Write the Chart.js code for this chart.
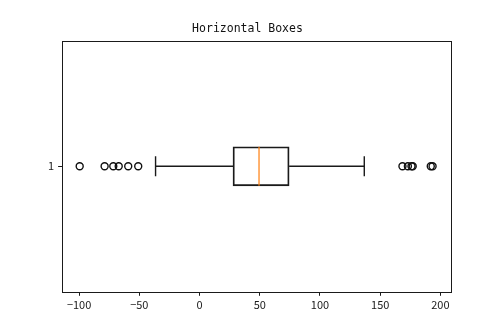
<!DOCTYPE html>
<html>
<head>
<meta charset="utf-8">
<script src="https://cdn.jsdelivr.net/npm/chart.js@4"></script>
<style>
  html, body { margin: 0; padding: 0; background: #fff; }
  #wrap { width: 500px; height: 333px; }
</style>
</head>
<body>
<div id="wrap"><canvas id="boxChart"></canvas></div>
<script>
// data
const categories = [1];
const whiskerLow = [-36.5];
const q1 = [27.8];
const median = [49.4];
const q3 = [74.4];
const whiskerHigh = [136.8];
const outlierValues = [-99.5, -78.8, -71.6, -67.1, -59.2, -50.9, 168.5, 173, 176, 177, 192, 193.5];
const xTicks = [-100, -50, 0, 50, 100, 150, 200];
const yTicks = [1];

const tickFont = { family: '"Noto Sans CJK JP", "DejaVu Sans", sans-serif', size: 11 };
const ink = '#1a1a1a';

// full frame like matplotlib spines
const framePlugin = {
    id: 'frame',
    afterDraw(chart) {
        const { ctx, chartArea: a } = chart;
        ctx.save();
        ctx.strokeStyle = ink;
        ctx.lineWidth = 1;
        ctx.strokeRect(Math.round(a.left) + 0.5, Math.round(a.top) + 0.5,
            Math.round(a.right - a.left), Math.round(a.bottom - a.top));
        ctx.restore();
    }
};

const datasets = [
    {
        type: 'bar',
        indexAxis: 'y',
        data: categories.map((c, i) => ({ x: [q1[i], q3[i]], y: c })),
        backgroundColor: 'rgba(255,255,255,0)',
        borderColor: ink,
        borderWidth: 1.2,
        borderSkipped: false,
        barThickness: 39,
        order: 3
    },
    {
        type: 'line',
        data: categories.map((c, i) => ({ x: whiskerLow[i], y: c })).concat(categories.map((c, i) => ({ x: q1[i], y: c }))),
        borderColor: ink,
        borderWidth: 1.4,
        pointRadius: 0,
        order: 2
    },
    {
        type: 'line',
        data: categories.map((c, i) => ({ x: q3[i], y: c })).concat(categories.map((c, i) => ({ x: whiskerHigh[i], y: c }))),
        borderColor: ink,
        borderWidth: 1.4,
        pointRadius: 0,
        order: 2
    },
    {
        // caps
        type: 'scatter',
        data: categories.flatMap((c, i) => [{ x: whiskerLow[i], y: c }, { x: whiskerHigh[i], y: c }]),
        pointStyle: 'line',
        rotation: 90,
        pointRadius: 10,
        borderColor: ink,
        borderWidth: 1.4,
        order: 1
    },
    {
        // median
        type: 'scatter',
        data: categories.map((c, i) => ({ x: median[i], y: c })),
        pointStyle: 'line',
        rotation: 90,
        pointRadius: 19.5,
        borderColor: '#ff7f0e',
        borderWidth: 1.2,
        order: 0
    },
    {
        // fliers
        type: 'scatter',
        data: outlierValues.map(v => ({ x: v, y: categories[0] })),
        pointStyle: 'circle',
        pointRadius: 3.5,
        backgroundColor: 'rgba(255,255,255,0)',
        borderColor: '#111',
        borderWidth: 1.4,
        order: 0
    }
];

new Chart(document.getElementById('boxChart'), {
    type: 'scatter',
    data: { datasets },
    options: {
        responsive: true,
        maintainAspectRatio: false,
        animation: false,
        events: [],
        layout: { padding: { top: 4, left: 44, right: 49, bottom: 20 } },
        plugins: {
            legend: { display: false },
            tooltip: { enabled: false },
            title: {
                display: true,
                text: 'Horizontal Boxes',
                color: '#111',
                font: { family: '"DejaVu Sans Mono", monospace', size: 11.5, weight: 'normal' },
                padding: { top: 18, bottom: 5 }
            }
        },
        scales: {
            x: {
                type: 'linear',
                offset: false,
                min: -114.1,
                max: 208.8,
                afterBuildTicks: s => { s.ticks = xTicks.map(v => ({ value: v })); },
                ticks: {
                    color: ink,
                    font: tickFont,
                    padding: 2,
                    maxRotation: 0,
                    callback: v => String(v).replace('-', '\u2212')
                },
                grid: { offset: false, drawOnChartArea: false, drawTicks: true, tickLength: 4, color: ink },
                border: { display: false }
            },
            y: {
                type: 'linear',
                offset: false,
                min: 0.5,
                max: 1.5,
                afterBuildTicks: s => { s.ticks = yTicks.map(v => ({ value: v })); },
                ticks: { color: ink, font: tickFont, padding: 4 },
                grid: { offset: false, drawOnChartArea: false, drawTicks: true, tickLength: 4, color: ink },
                border: { display: false }
            }
        }
    },
    plugins: [framePlugin]
});
</script>
</body>
</html>
